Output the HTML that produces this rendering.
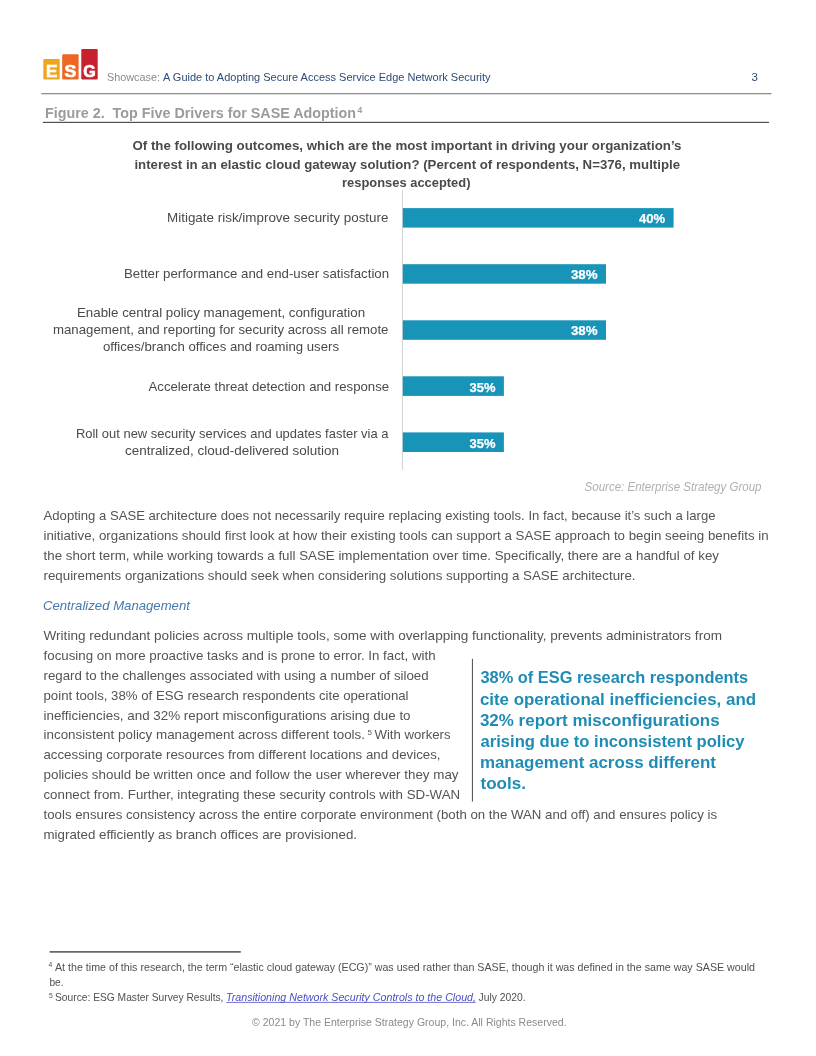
<!DOCTYPE html>
<html><head><meta charset="utf-8"><title>ESG Showcase</title>
<style>
html,body{margin:0;padding:0;background:#fff;}
body{width:816px;height:1056px;overflow:hidden;position:relative;}
svg{display:block;position:absolute;left:0;top:0;will-change:transform;}
text{font-family:"Liberation Sans", sans-serif;white-space:pre;}
</style></head><body>
<svg width="816" height="1056" viewBox="0 0 816 1056">
<rect x="0" y="0" width="816" height="1056" fill="#ffffff"/>
<g id="logo">
<rect x="43.3" y="59.1" width="16.4" height="20.5" rx="1" fill="#eea620"/>
<rect x="62.2" y="54.2" width="16.4" height="25.4" rx="1" fill="#ee6524"/>
<rect x="81.3" y="49.0" width="16.4" height="30.6" rx="1" fill="#c9202e"/>
<text x="51.6" y="77.4" font-size="17" font-weight="bold" fill="#fff" stroke="#fff" stroke-width="0.7" text-anchor="middle" textLength="11.4" lengthAdjust="spacingAndGlyphs">E</text>
<text x="70.5" y="77.4" font-size="17" font-weight="bold" fill="#fff" stroke="#fff" stroke-width="0.7" text-anchor="middle" textLength="11.8" lengthAdjust="spacingAndGlyphs">S</text>
<text x="89.6" y="77.4" font-size="17" font-weight="bold" fill="#fff" stroke="#fff" stroke-width="0.7" text-anchor="middle" textLength="12.5" lengthAdjust="spacingAndGlyphs">G</text>
</g>
<rect x="41.3" y="93" width="730.2" height="1.3" fill="#8e8e8e"/>
<rect x="42.9" y="121.8" width="726.1" height="1.2" fill="#505050"/>
<rect x="402" y="190" width="1" height="280" fill="#d4d4d4"/>
<rect x="402.8" y="208.1" width="270.8" height="19.5" fill="#1894b9"/>
<rect x="402.8" y="264.2" width="203.2" height="19.5" fill="#1894b9"/>
<rect x="402.8" y="320.3" width="203.2" height="19.5" fill="#1894b9"/>
<rect x="402.8" y="376.3" width="101.1" height="19.6" fill="#1894b9"/>
<rect x="402.8" y="432.4" width="101.1" height="19.6" fill="#1894b9"/>
<rect x="471.9" y="658.8" width="1.1" height="142.7" fill="#5a5a5a"/>
<rect x="49.6" y="951.2" width="191.2" height="1.4" fill="#444444"/>
<rect x="226.3" y="1001.9" width="249.3" height="0.9" fill="#6064cc"/>
<text id="h1" x="107.02" y="81.20" textLength="53.02" lengthAdjust="spacingAndGlyphs" font-size="11.5" fill="#8c8c8c">Showcase:</text>
<text id="h2" x="163.06" y="81.20" textLength="327.52" lengthAdjust="spacingAndGlyphs" font-size="11.5" fill="#2c4a78">A Guide to Adopting Secure Access Service Edge Network Security</text>
<text id="h3" x="751.44" y="81.10" font-size="11.5" fill="#2c4a78">3</text>
<text id="f1" x="45.00" y="118.00" textLength="311.00" lengthAdjust="spacingAndGlyphs" font-size="14.8" fill="#9b9b9b" font-weight="bold">Figure 2.  Top Five Drivers for SASE Adoption</text>
<text id="f2" x="357.48" y="112.80" font-size="8.5" fill="#9b9b9b" font-weight="bold">4</text>
<text id="t1" x="132.44" y="150.10" textLength="549.06" lengthAdjust="spacingAndGlyphs" font-size="13.6" fill="#4a4a4a" font-weight="bold">Of the following outcomes, which are the most important in driving your organization’s</text>
<text id="t2" x="134.44" y="168.50" textLength="545.56" lengthAdjust="spacingAndGlyphs" font-size="13.6" fill="#4a4a4a" font-weight="bold">interest in an elastic cloud gateway solution? (Percent of respondents, N=376, multiple</text>
<text id="t3" x="342.08" y="186.50" textLength="128.40" lengthAdjust="spacingAndGlyphs" font-size="13.6" fill="#4a4a4a" font-weight="bold">responses accepted)</text>
<text id="l1" x="167.04" y="222.10" textLength="221.44" lengthAdjust="spacingAndGlyphs" font-size="13.3" fill="#4a4a4a">Mitigate risk/improve security posture</text>
<text id="l2" x="124.02" y="278.10" textLength="265.08" lengthAdjust="spacingAndGlyphs" font-size="13.3" fill="#4a4a4a">Better performance and end-user satisfaction</text>
<text id="l3a" x="76.96" y="316.60" textLength="288.14" lengthAdjust="spacingAndGlyphs" font-size="13.3" fill="#4a4a4a">Enable central policy management, configuration</text>
<text id="l3b" x="52.98" y="334.10" textLength="335.52" lengthAdjust="spacingAndGlyphs" font-size="13.3" fill="#4a4a4a">management, and reporting for security across all remote</text>
<text id="l3c" x="102.94" y="351.30" textLength="236.06" lengthAdjust="spacingAndGlyphs" font-size="13.3" fill="#4a4a4a">offices/branch offices and roaming users</text>
<text id="l4" x="148.50" y="390.60" textLength="240.60" lengthAdjust="spacingAndGlyphs" font-size="13.3" fill="#4a4a4a">Accelerate threat detection and response</text>
<text id="l5a" x="75.90" y="437.60" textLength="312.60" lengthAdjust="spacingAndGlyphs" font-size="13.3" fill="#4a4a4a">Roll out new security services and updates faster via a</text>
<text id="l5b" x="124.96" y="455.00" textLength="214.04" lengthAdjust="spacingAndGlyphs" font-size="13.3" fill="#4a4a4a">centralized, cloud-delivered solution</text>
<text id="b1" x="639.00" y="223.00" textLength="26.08" lengthAdjust="spacingAndGlyphs" font-size="13.6" fill="#ffffff" stroke="#ffffff" stroke-width="0.25" font-weight="bold">40%</text>
<text id="b2" x="570.94" y="279.20" textLength="26.70" lengthAdjust="spacingAndGlyphs" font-size="13.6" fill="#ffffff" stroke="#ffffff" stroke-width="0.25" font-weight="bold">38%</text>
<text id="b3" x="570.94" y="335.40" textLength="26.70" lengthAdjust="spacingAndGlyphs" font-size="13.6" fill="#ffffff" stroke="#ffffff" stroke-width="0.25" font-weight="bold">38%</text>
<text id="b4" x="469.58" y="391.60" textLength="25.94" lengthAdjust="spacingAndGlyphs" font-size="13.6" fill="#ffffff" stroke="#ffffff" stroke-width="0.25" font-weight="bold">35%</text>
<text id="b5" x="469.58" y="447.80" textLength="25.94" lengthAdjust="spacingAndGlyphs" font-size="13.6" fill="#ffffff" stroke="#ffffff" stroke-width="0.25" font-weight="bold">35%</text>
<text id="src" x="584.52" y="490.80" textLength="177.00" lengthAdjust="spacingAndGlyphs" font-size="12.7" fill="#b0b0b0" font-style="italic">Source: Enterprise Strategy Group</text>
<text id="p1" x="43.56" y="520.20" textLength="671.98" lengthAdjust="spacingAndGlyphs" font-size="13.6" fill="#545454">Adopting a SASE architecture does not necessarily require replacing existing tools. In fact, because it’s such a large</text>
<text id="p2" x="43.44" y="540.00" textLength="725.16" lengthAdjust="spacingAndGlyphs" font-size="13.6" fill="#545454">initiative, organizations should first look at how their existing tools can support a SASE approach to begin seeing benefits in</text>
<text id="p3" x="43.56" y="559.80" textLength="675.44" lengthAdjust="spacingAndGlyphs" font-size="13.6" fill="#545454">the short term, while working towards a full SASE implementation over time. Specifically, there are a handful of key</text>
<text id="p4" x="43.52" y="579.60" textLength="592.06" lengthAdjust="spacingAndGlyphs" font-size="13.6" fill="#545454">requirements organizations should seek when considering solutions supporting a SASE architecture.</text>
<text id="cm" x="42.96" y="610.00" textLength="146.96" lengthAdjust="spacingAndGlyphs" font-size="13.6" fill="#4677ad" font-style="italic">Centralized Management</text>
<text id="q1" x="43.56" y="640.20" textLength="678.44" lengthAdjust="spacingAndGlyphs" font-size="13.6" fill="#545454">Writing redundant policies across multiple tools, some with overlapping functionality, prevents administrators from</text>
<text id="q2" x="43.56" y="660.00" textLength="392.06" lengthAdjust="spacingAndGlyphs" font-size="13.6" fill="#545454">focusing on more proactive tasks and is prone to error. In fact, with</text>
<text id="q3" x="43.52" y="679.90" textLength="385.08" lengthAdjust="spacingAndGlyphs" font-size="13.6" fill="#545454">regard to the challenges associated with using a number of siloed</text>
<text id="q4" x="43.52" y="699.70" textLength="365.04" lengthAdjust="spacingAndGlyphs" font-size="13.6" fill="#545454">point tools, 38% of ESG research respondents cite operational</text>
<text id="q5" x="43.52" y="719.60" textLength="367.04" lengthAdjust="spacingAndGlyphs" font-size="13.6" fill="#545454">inefficiencies, and 32% report misconfigurations arising due to</text>
<text id="q6" x="43.52" y="739.40" textLength="321.50" lengthAdjust="spacingAndGlyphs" font-size="13.6" fill="#545454">inconsistent policy management across different tools.</text>
<text id="q7" x="43.44" y="759.30" textLength="397.08" lengthAdjust="spacingAndGlyphs" font-size="13.6" fill="#545454">accessing corporate resources from different locations and devices,</text>
<text id="q8" x="43.52" y="779.10" textLength="415.04" lengthAdjust="spacingAndGlyphs" font-size="13.6" fill="#545454">policies should be written once and follow the user wherever they may</text>
<text id="q9" x="43.44" y="799.00" textLength="416.72" lengthAdjust="spacingAndGlyphs" font-size="13.6" fill="#545454">connect from. Further, integrating these security controls with SD-WAN</text>
<text id="q10" x="43.56" y="818.80" textLength="673.50" lengthAdjust="spacingAndGlyphs" font-size="13.6" fill="#545454">tools ensures consistency across the entire corporate environment (both on the WAN and off) and ensures policy is</text>
<text id="q11" x="43.52" y="838.70" textLength="313.50" lengthAdjust="spacingAndGlyphs" font-size="13.6" fill="#545454">migrated efficiently as branch offices are provisioned.</text>
<text id="q6s" x="367.56" y="734.60" font-size="8.0" fill="#545454">5</text>
<text id="q6b" x="374.44" y="739.40" textLength="76.18" lengthAdjust="spacingAndGlyphs" font-size="13.6" fill="#545454">With workers</text>
<text id="pq1" x="480.50" y="683.30" textLength="267.60" lengthAdjust="spacingAndGlyphs" font-size="17.0" fill="#1e8cb4" font-weight="bold">38% of ESG research respondents</text>
<text id="pq2" x="479.90" y="704.50" textLength="276.14" lengthAdjust="spacingAndGlyphs" font-size="17.0" fill="#1e8cb4" font-weight="bold">cite operational inefficiencies, and</text>
<text id="pq3" x="479.90" y="725.80" textLength="239.70" lengthAdjust="spacingAndGlyphs" font-size="17.0" fill="#1e8cb4" font-weight="bold">32% report misconfigurations</text>
<text id="pq4" x="480.50" y="747.00" textLength="264.06" lengthAdjust="spacingAndGlyphs" font-size="17.0" fill="#1e8cb4" font-weight="bold">arising due to inconsistent policy</text>
<text id="pq5" x="479.90" y="768.20" textLength="236.10" lengthAdjust="spacingAndGlyphs" font-size="17.0" fill="#1e8cb4" font-weight="bold">management across different</text>
<text id="pq6" x="480.50" y="789.40" textLength="45.50" lengthAdjust="spacingAndGlyphs" font-size="17.0" fill="#1e8cb4" font-weight="bold">tools.</text>
<text id="n4s" x="48.46" y="967.10" font-size="6.8" fill="#505050">4</text>
<text id="n1" x="55.00" y="971.00" textLength="700.00" lengthAdjust="spacingAndGlyphs" font-size="10.6" fill="#505050">At the time of this research, the term “elastic cloud gateway (ECG)” was used rather than SASE, though it was defined in the same way SASE would</text>
<text id="n1b" x="49.38" y="985.90" textLength="14.16" lengthAdjust="spacingAndGlyphs" font-size="10.6" fill="#505050">be.</text>
<text id="n5s" x="49.00" y="997.50" font-size="6.8" fill="#505050">5</text>
<text id="n2a" x="55.02" y="1001.40" textLength="168.44" lengthAdjust="spacingAndGlyphs" font-size="10.6" fill="#505050">Source: ESG Master Survey Results,</text>
<text id="n2b" x="226.00" y="1001.40" textLength="250.00" lengthAdjust="spacingAndGlyphs" font-size="10.6" fill="#4a4ec4" font-style="italic">Transitioning Network Security Controls to the Cloud,</text>
<text id="n2c" x="478.52" y="1001.40" textLength="47.02" lengthAdjust="spacingAndGlyphs" font-size="10.6" fill="#505050">July 2020.</text>
<text id="cr" x="252.06" y="1025.80" textLength="314.52" lengthAdjust="spacingAndGlyphs" font-size="11.8" fill="#8a8a8a">© 2021 by The Enterprise Strategy Group, Inc. All Rights Reserved.</text>
</svg>
</body></html>
